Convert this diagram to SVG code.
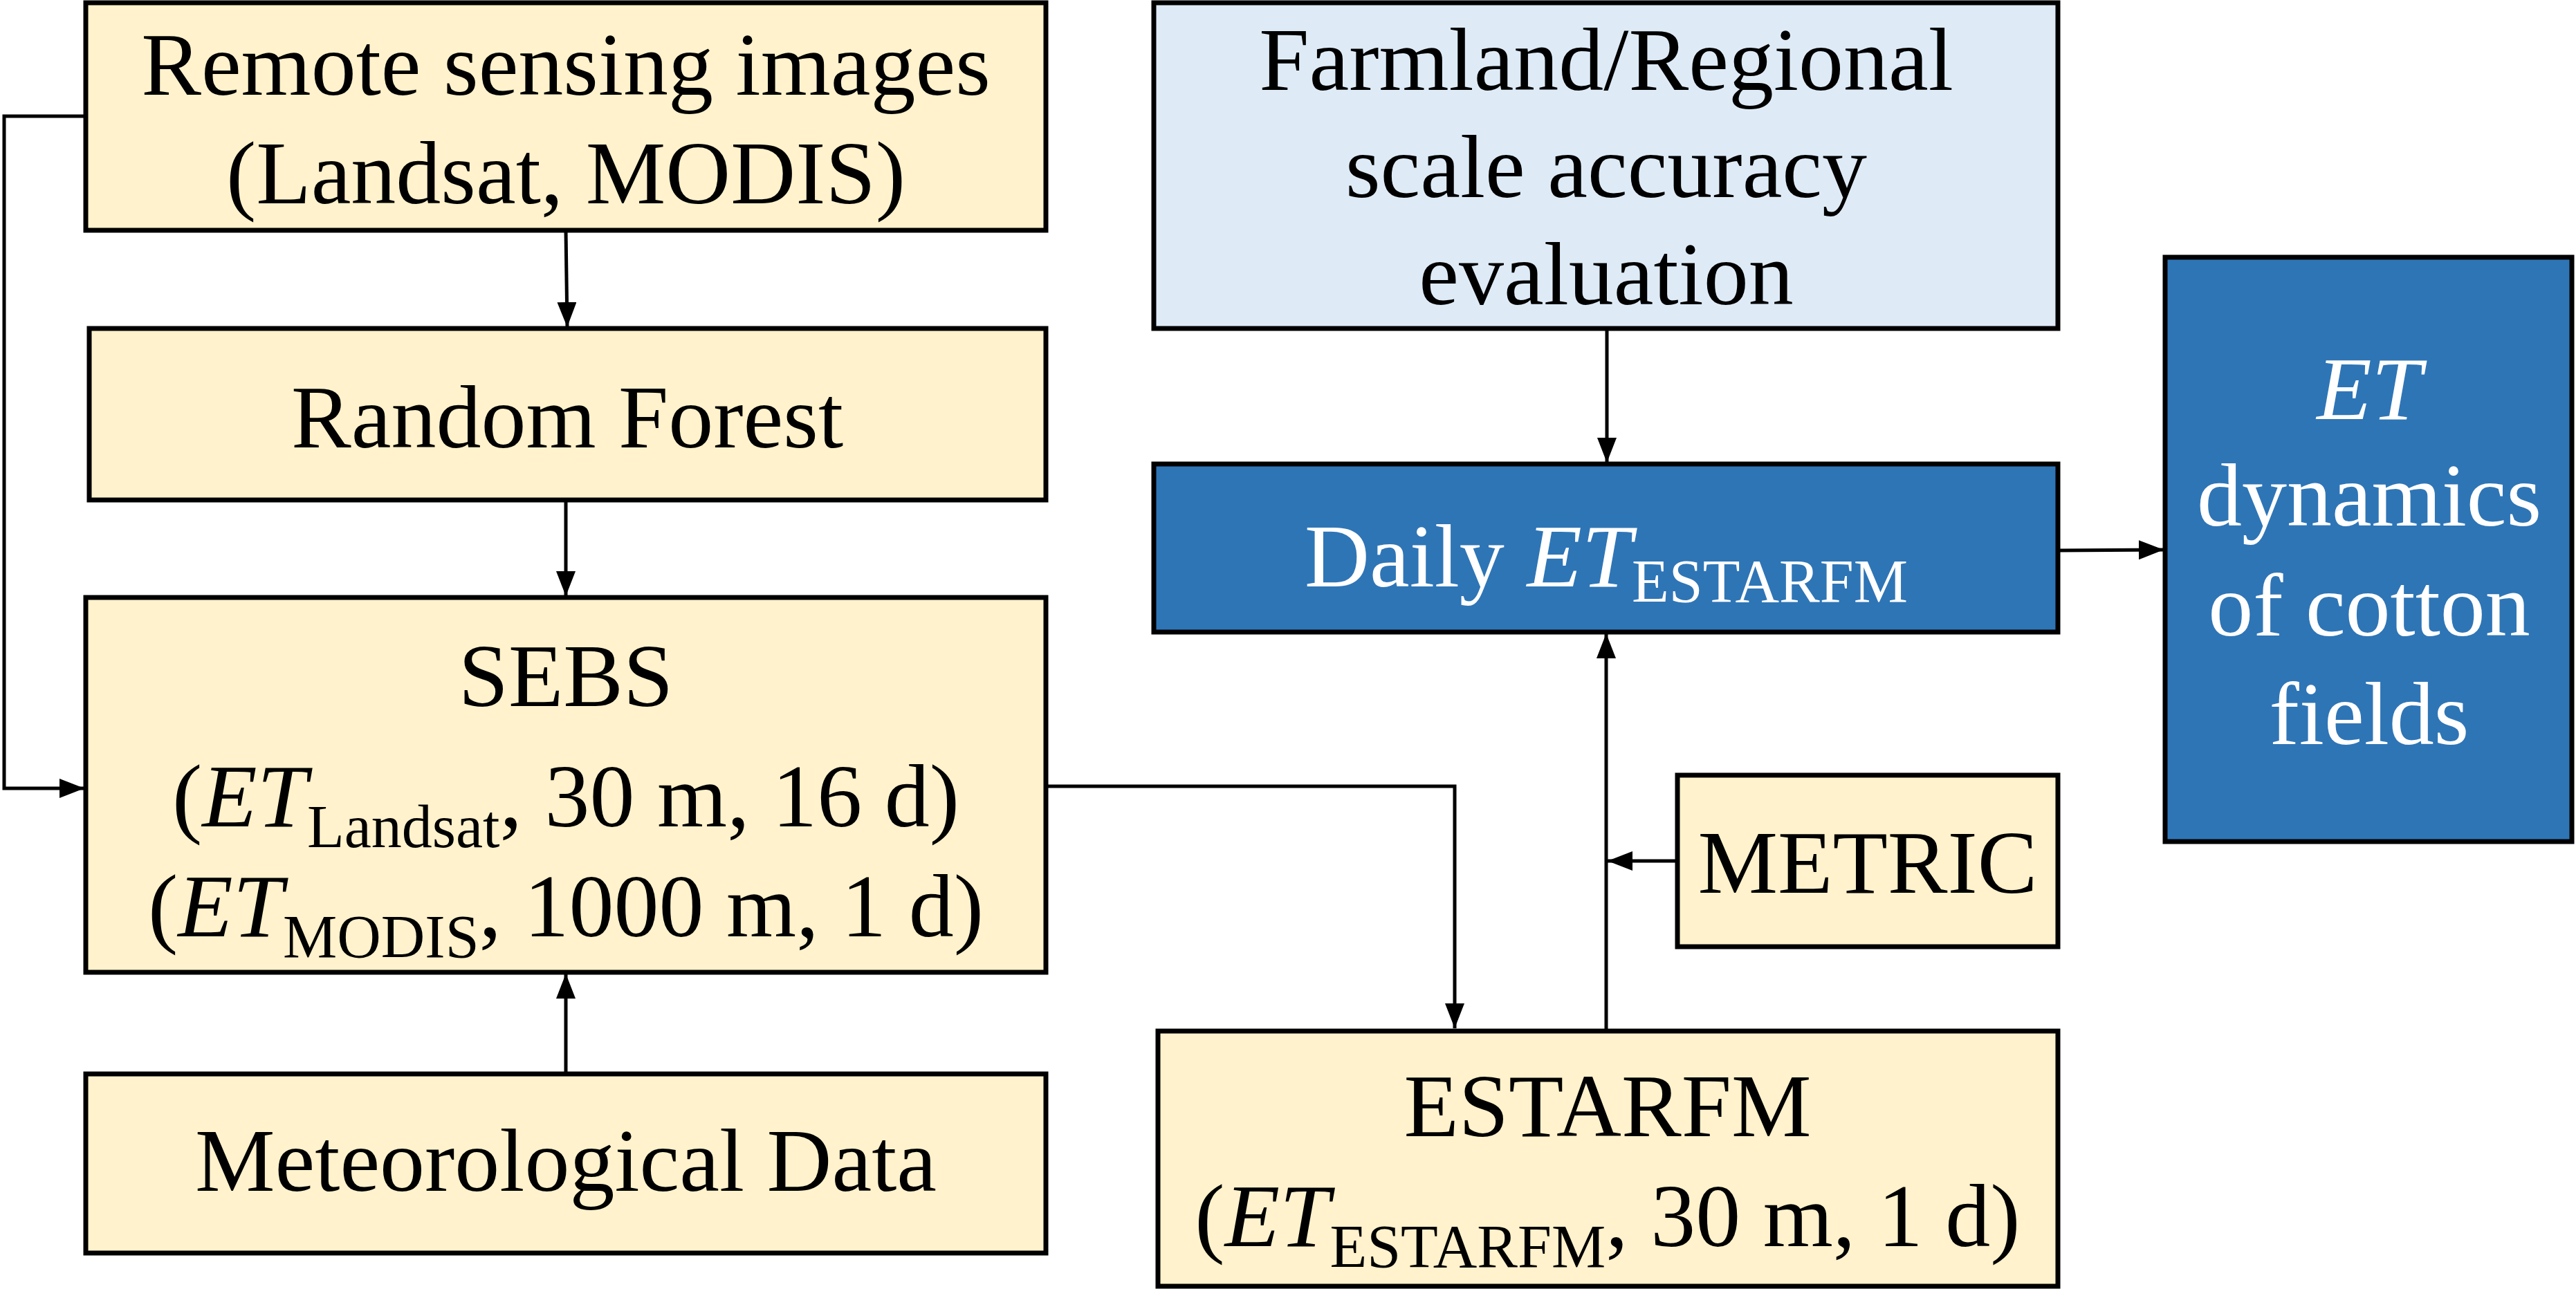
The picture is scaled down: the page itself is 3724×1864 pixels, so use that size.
<svg xmlns="http://www.w3.org/2000/svg" width="3724" height="1864" viewBox="0 0 3724 1864">
<style>
.box{stroke:#000;stroke-width:7}
.c{fill:#FFF2CC}.lb{fill:#DEEBF7}.db{fill:#2E75B6}
text{font-family:"Liberation Serif","Times New Roman",serif;font-size:130px;text-anchor:middle;fill:#000}
.w{fill:#fff}
.i{font-style:italic}
.s{font-size:88px}
.ln{fill:none;stroke:#000;stroke-width:5}
</style>
<defs>
<marker id="a" markerWidth="10" markerHeight="8" refX="10" refY="4" orient="auto" markerUnits="userSpaceOnUse" viewBox="0 0 10 8" style="overflow:visible">
<path d="M0,0 L10,4 L0,8 Z" fill="#000" transform="scale(1)"/>
</marker>
<marker id="m" markerWidth="36" markerHeight="28" refX="36" refY="14" orient="auto" markerUnits="userSpaceOnUse">
<path d="M0,0 L36,14 L0,28 Z" fill="#000"/>
</marker>
</defs>
<g id="connectors">
<path class="ln" d="M818,333 L820,473" marker-end="url(#m)"/>
<path class="ln" d="M818,723 L818,862" marker-end="url(#m)"/>
<path class="ln" d="M818,1553 L818,1408" marker-end="url(#m)"/>
<path class="ln" d="M124,168 L6,168 L6,1140 L122,1140" marker-end="url(#m)"/>
<path class="ln" d="M1511,1137 L2103,1137 L2103,1487" marker-end="url(#m)"/>
<path class="ln" d="M2323,475 L2323,669" marker-end="url(#m)"/>
<path class="ln" d="M2322,1491 L2322,916" marker-end="url(#m)"/>
<path class="ln" d="M2425,1245 L2324,1245" marker-end="url(#m)"/>
<path class="ln" d="M2975,796 L3128,795" marker-end="url(#m)"/>
</g>
<g id="remote"><rect class="box c" x="124" y="4" width="1388" height="329"/>
<text x="818" y="137">Remote sensing images</text><text x="818" y="294">(Landsat, MODIS)</text></g>
<g id="rf"><rect class="box c" x="129" y="475" width="1383" height="248"/>
<text x="820" y="647">Random Forest</text></g>
<g id="sebs"><rect class="box c" x="124" y="864" width="1388" height="542"/>
<text x="818" y="1021">SEBS</text>
<text x="818" y="1195">(<tspan class="i">ET</tspan><tspan class="s" dy="30">Landsat</tspan><tspan dy="-30">, 30 m, 16 d)</tspan></text>
<text x="818" y="1354">(<tspan class="i">ET</tspan><tspan class="s" dy="30">MODIS</tspan><tspan dy="-30">, 1000 m, 1 d)</tspan></text></g>
<g id="met"><rect class="box c" x="124" y="1553" width="1388" height="259"/>
<text x="818" y="1722">Meteorological Data</text></g>
<g id="farm"><rect class="box lb" x="1668" y="4" width="1307" height="471"/>
<text x="2322" y="130">Farmland/Regional</text><text x="2322" y="285">scale accuracy</text><text x="2322" y="440">evaluation</text></g>
<g id="daily"><rect class="box db" x="1668" y="671" width="1307" height="243"/>
<text class="w" x="2322" y="848">Daily <tspan class="i">ET</tspan><tspan class="s" dy="22">ESTARFM</tspan></text></g>
<g id="dyn"><rect class="box db" x="3130" y="372" width="588" height="845"/>
<text class="w i" x="3425" y="606">ET</text><text class="w" x="3425" y="760">dynamics</text><text class="w" x="3425" y="919">of cotton</text><text class="w" x="3425" y="1076">fields</text></g>
<g id="metric"><rect class="box c" x="2425" y="1121" width="550" height="248"/>
<text x="2700" y="1291">METRIC</text></g>
<g id="estarfm"><rect class="box c" x="1674" y="1491" width="1301" height="369"/>
<text x="2324" y="1643">ESTARFM</text>
<text x="2324" y="1802">(<tspan class="i">ET</tspan><tspan class="s" dy="30">ESTARFM</tspan><tspan dy="-30">, 30 m, 1 d)</tspan></text></g>
</svg>
